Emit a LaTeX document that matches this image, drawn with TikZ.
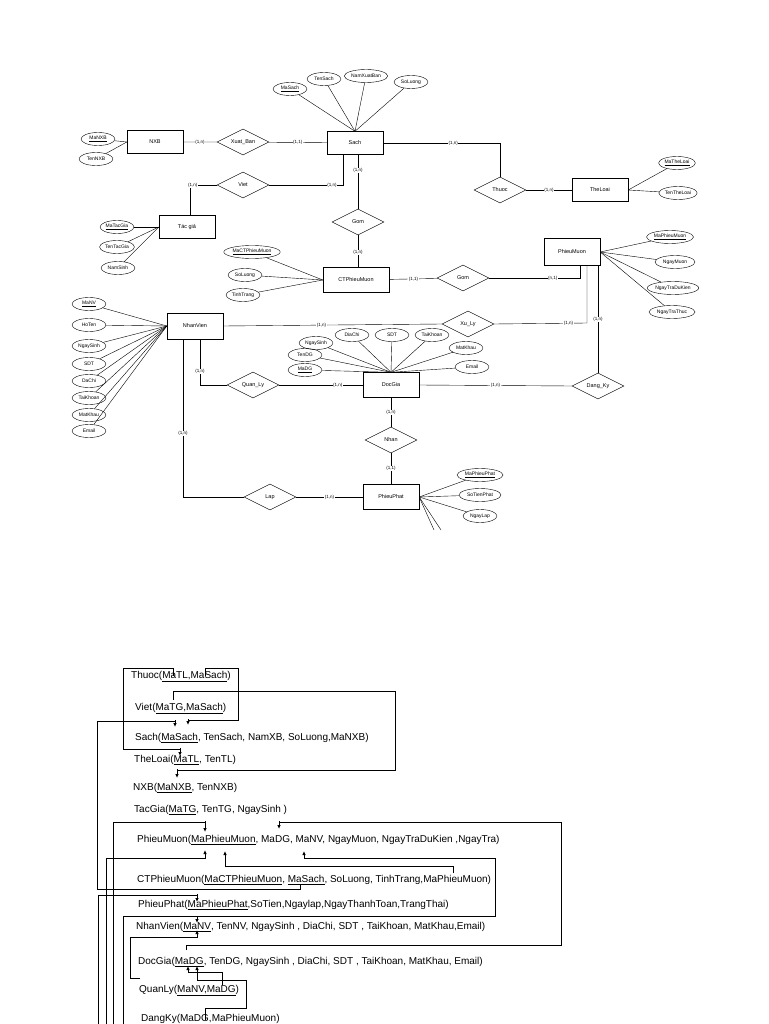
\documentclass[tikz,border=0pt]{standalone}
\usepackage{fontspec}
\setmainfont{Liberation Sans}
\usetikzlibrary{shapes.geometric,arrows.meta}
\begin{document}
\begin{tikzpicture}[x=1pt,y=-1pt,
 ent/.style={draw,minimum width=56pt,minimum height=23pt,inner sep=0pt,font=\fontsize{5.5}{6}\selectfont},
 rel/.style={draw,diamond,aspect=2.1,minimum width=52pt,minimum height=26pt,inner sep=0pt,font=\fontsize{5.5}{6}\selectfont},
 attr/.style={draw,ellipse,minimum width=34pt,minimum height=13pt,inner sep=0.5pt,font=\fontsize{5}{5.5}\selectfont},
 lbl/.style={fill=white,inner sep=0.5pt,font=\fontsize{4.5}{5}\selectfont},
 sch/.style={anchor=west,inner sep=0pt,font=\fontsize{10}{11}\selectfont},
 ar/.style={-{Latex[length=4pt,width=3.5pt]},thick},
 ln/.style={thick}]
\useasboundingbox (0,0) rectangle (768,1024);
% ===== ER =====
\node[ent] (sach) at (355,143) {Sach};
\node[ent] (nxb) at (155,142) {NXB};
\node[rel] (xb) at (243,142) {Xuat\_Ban};
\node[attr] (manxb) at (98,139) {\underline{MaNXB}};
\node[attr] (tennxb) at (96,159) {TenNXB};
\node[attr] (masach) at (290,89) {\underline{MaSach}};
\node[attr] (tensach) at (324,79) {TenSach};
\node[attr,minimum width=38pt] (namxb) at (366,76) {NamXuatBan};
\node[attr] (slg) at (411,82) {SoLuong};
\foreach \a in {masach,tensach,namxb,slg} \draw (\a) -- (sach.north);
\foreach \a in {manxb,tennxb} \draw (\a) -- (nxb.west);
\draw (nxb) -- node[lbl]{(1,n)} (xb) -- node[lbl]{(1,1)} (sach);
\node[rel] (thuoc) at (500,190) {Thuoc};
\node[ent] (theloai) at (600,190) {TheLoai};
\node[attr] (matl) at (677,163) {\underline{MaTheLoai}};
\node[attr] (tentl) at (678,193) {TenTheLoai};
\foreach \a in {matl,tentl} \draw (\a) -- (theloai.east);
\draw (sach.east) -- node[lbl,pos=.6]{(1,n)} (500,143) -- (thuoc.north);
\draw (thuoc) -- node[lbl]{(1,n)} (theloai);
\node[rel] (viet) at (243,185) {Viet};
\node[ent] (tacgia) at (187,227) {Tác giả};
\draw (viet.east) -- node[lbl,pos=.85]{(1,n)} (343,185) -- (343,154);
\draw (viet.west) -- node[lbl,pos=.9]{(1,n)} (190,185) -- (190,216);
\node[attr] (matg) at (117,227) {\underline{MaTacGia}};
\node[attr] (tentg) at (117,247) {TenTacGia};
\node[attr] (ns) at (118,268) {NamSinh};
\foreach \a in {matg,tentg,ns} \draw (\a) -- (tacgia.west);
\node[rel] (gom) at (358,222) {Gom};
\node[ent,minimum width=66pt,minimum height=25pt] (ctpm) at (356,280) {CTPhieuMuon};
\draw (358,154) -- node[lbl,pos=.3]{(1,n)} (gom.north);
\draw (gom.south) -- node[lbl,pos=.55]{(1,n)} (358,267);
\node[attr,minimum width=54pt] (mact) at (252,252) {\underline{MaCTPhieuMuon}};
\node[attr] (sl2) at (245,275) {SoLuong};
\node[attr] (tt) at (243,295) {TinhTrang};
\foreach \a in {mact,sl2,tt} \draw (\a) -- (ctpm.west);
\node[rel] (gom2) at (463,278) {Gom};
\node[ent,minimum height=27pt] (pm) at (572,252) {PhieuMuon};
\draw (ctpm) -- node[lbl]{(1,1)} (gom2);
\draw (gom2.east) -- node[lbl,pos=.7]{(n,1)} (580,278) -- (580,265.5);
\node[attr,minimum width=46pt] (mapm) at (670,237) {\underline{MaPhieuMuon}};
\node[attr,minimum width=40pt] (nm) at (675,262) {NgayMuon};
\node[attr,minimum width=50pt] (ntdk) at (673,288) {NgayTraDuKien};
\node[attr,minimum width=46pt] (ntt) at (672,312) {NgayTraThuc};
\foreach \a in {mapm,nm,ntdk,ntt} \draw (\a) -- (pm.east);
\node[ent,minimum height=26pt] (nv) at (195,326) {NhanVien};
\foreach \n/\t/\y in {manv/\underline{MaNV}/304,hoten/HoTen/325,nsnv/NgaySinh/346,sdtnv/SDT/364,dcnv/DaChi/381,tknv/TaiKhoan/398,mknv/MatKhau/415,emnv/Email/431}
 {\node[attr] (\n) at (89,\y) {\t}; \draw (\n) -- (nv.west);}
\node[rel] (xuly) at (468,324) {Xu\_Ly};
\draw (nv.east) -- node[lbl,pos=.45]{(1,n)} (xuly.west);
\draw (xuly.east) -- node[lbl,pos=.8]{(1,n)} (587,323) -- (587,265.5);
\node[rel] (dk) at (598,386) {Dang\_Ky};
\draw (598,265.5) -- node[lbl,pos=.5]{(1,n)} (dk.north);
\node[ent,minimum height=25pt] (dg) at (391,385) {DocGia};
\draw (dg.east) -- node[lbl]{(1,n)} (dk.west);
\foreach \n/\t/\x/\y in {nsdg/NgaySinh/316/343,dcdg/DiaChi/352/335,sdtdg/SDT/392/335,tkdg/TaiKhoan/432/335,mkdg/MatKhau/466/348,tendg/TenDG/305/355,madg/\underline{MaDG}/305/370,emdg/Email/472/367}
 {\node[attr] (\n) at (\x,\y) {\t}; \draw (\n) -- (dg.north);}
\node[rel] (ql) at (253,385) {Quan\_Ly};
\draw (200,339) -- node[lbl,pos=.7]{(1,n)} (200,385) -- (ql.west);
\draw (ql.east) -- node[lbl,pos=.7]{(1,n)} (dg.west);
\node[rel] (nhan) at (391,440) {Nhan};
\node[ent,minimum height=25pt] (pp) at (391,497) {PhieuPhat};
\draw (dg.south) -- node[lbl,pos=.5]{(1,n)} (nhan.north);
\draw (nhan.south) -- node[lbl,pos=.5]{(1,1)} (pp.north);
\node[rel] (lap) at (270,497) {Lap};
\draw (183,339) -- node[lbl,pos=.6]{(1,n)} (183,497) -- (lap.west);
\draw (lap.east) -- node[lbl]{(1,n)} (pp.west);
\node[attr,minimum width=46pt] (mapp) at (480,475) {\underline{MaPhieuPhat}};
\node[attr,minimum width=42pt] (stp) at (480,495) {SoTienPhat};
\node[attr] (nl) at (480,516) {NgayLap};
\foreach \a in {mapp,stp,nl} \draw (\a) -- (pp.east);
\draw (pp.east) -- (434,530); \draw (pp.east) -- (441,530);
% ===== Schema =====
\node[sch] (t1) at (131,677) {Thuoc(\underline{MaTL,MaSach})};
\node[sch] (t2) at (135,709) {Viet(\underline{MaTG,MaSach})};
\node[sch] (t3) at (135,738) {Sach(\underline{MaSach}, TenSach, NamXB, SoLuong,MaNXB)};
\node[sch] (t4) at (134,760) {TheLoai(\underline{MaTL}, TenTL)};
\node[sch] (t5) at (133,788) {NXB(\underline{MaNXB}, TenNXB)};
\node[sch] (t6) at (134,810) {TacGia(\underline{MaTG}, TenTG, NgaySinh )};
\node[sch] (t7) at (137,840) {PhieuMuon(\underline{MaPhieuMuon}, MaDG, MaNV, NgayMuon, NgayTraDuKien ,NgayTra)};
\node[sch] (t8) at (137,880) {CTPhieuMuon(\underline{MaCTPhieuMuon}, \underline{MaSach}, SoLuong, TinhTrang,MaPhieuMuon)};
\node[sch] (t9) at (138,905) {PhieuPhat(\underline{MaPhieuPhat},SoTien,Ngaylap,NgayThanhToan,TrangThai)};
\node[sch] (t10) at (136,927) {NhanVien(\underline{MaNV}, TenNV, NgaySinh , DiaChi, SDT , TaiKhoan, MatKhau,Email)};
\node[sch] (t11) at (138,962) {DocGia(\underline{MaDG}, TenDG, NgaySinh , DiaChi, SDT , TaiKhoan, MatKhau, Email)};
\node[sch] (t12) at (139,991) {QuanLy(\underline{MaNV,MaDG})};
\node[sch] (t13) at (141,1020) {DangKy(\underline{MaDG,MaPhieuMuon})};
% connectors
\draw[ln] (173,676) -- (173,668) -- (123,668) -- (123,749) -- (180,749);
\draw[ar] (180,748) -- (180,756);
\draw[ln] (205,676) -- (205,668) -- (238,668) -- (238,720) -- (188,720);
\draw[ar] (188,719) -- (188,725);
\draw[ln] (173,700) -- (173,691) -- (395,691) -- (395,770) -- (177,770);
\draw[ar] (177,769) -- (177,778);
\draw[ln] (300,884) -- (300,889) -- (97,889) -- (97,721) -- (175,721);
\draw[ar] (175,720) -- (175,727);
\draw[ln] (113,1024) -- (113,822) -- (205,822);
\draw[ar] (205,821) -- (205,832);
\draw[ln] (106,1024) -- (106,858) -- (205,858);
\draw[ar] (205,859) -- (205,850);
\draw[ln] (98,1024) -- (98,895) -- (197,895);
\draw[ar] (197,894) -- (197,902);
\draw[ln] (186,950) -- (186,945) -- (561,945) -- (561,822) -- (279,822);
\draw[ar] (279,821) -- (279,829);
\draw[ln] (453,873) -- (453,866) -- (225,866);
\draw[ar] (225,867) -- (225,851);
\draw[ln] (123,1024) -- (123,916) -- (495,916) -- (495,858) -- (304,858);
\draw[ar] (304,859) -- (304,851);
\draw[ar] (197,916) -- (197,923);
\draw[ln] (140,978) -- (130,978) -- (130,937) -- (197,937);
\draw[ar] (197,938) -- (197,930);
\draw[ln] (222,985) -- (222,972) -- (188,972);
\draw[ar] (188,973) -- (188,966);
\draw[ln] (205,1020) -- (205,1008) -- (246,1008) -- (246,980) -- (197,980);
\draw[ar] (197,981) -- (197,966);
\end{tikzpicture}
\end{document}
